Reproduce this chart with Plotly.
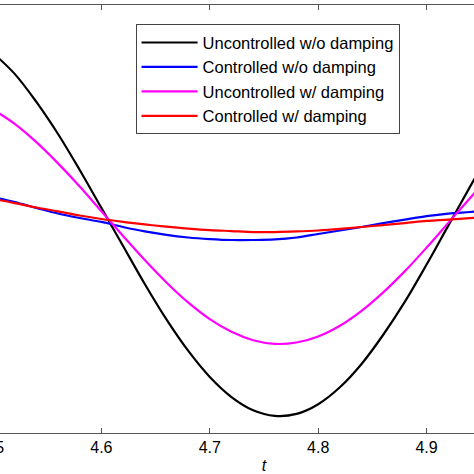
import plotly.graph_objects as go

t = [4.50, 4.52, 4.54, 4.56, 4.58, 4.60, 4.62, 4.64, 4.66, 4.68, 4.70, 4.72,
     4.74, 4.76, 4.78, 4.80, 4.82, 4.84, 4.86, 4.88, 4.90, 4.92, 4.94, 4.95]

unc_no_damp = [0.853, 0.746, 0.602, 0.437, 0.252, 0.057, -0.139, -0.334, -0.516, -0.677,
               -0.812, -0.915, -0.983, -1.012, -1.002, -0.952, -0.865, -0.745, -0.595,
               -0.425, -0.234, -0.034, 0.165, 0.262]
ctl_no_damp = [0.113, 0.087, 0.057, 0.028, 0.005, -0.015, -0.041, -0.064, -0.082, -0.095,
               -0.103, -0.108, -0.108, -0.105, -0.095, -0.077, -0.059, -0.041, -0.021,
               -0.003, 0.015, 0.028, 0.036, 0.041]
unc_damp = [0.563, 0.489, 0.395, 0.286, 0.167, 0.040, -0.087, -0.211, -0.326, -0.429,
            -0.515, -0.580, -0.623, -0.642, -0.635, -0.604, -0.549, -0.472, -0.377,
            -0.268, -0.147, -0.020, 0.107, 0.169]
ctl_damp = [0.103, 0.082, 0.059, 0.039, 0.018, 0.000, -0.015, -0.028, -0.039, -0.049,
            -0.057, -0.062, -0.067, -0.067, -0.064, -0.059, -0.051, -0.041, -0.031,
            -0.021, -0.010, -0.003, 0.005, 0.008]

x_ticks = [4.5, 4.6, 4.7, 4.8, 4.9]
x_tick_labels = ["4.5", "4.6", "4.7", "4.8", "4.9"]

names = ["Uncontrolled w/o damping", "Controlled w/o damping",
         "Uncontrolled w/ damping", "Controlled w/ damping"]
colors = ["#000000", "#0000ff", "#ff00ff", "#ff0000"]
series = [unc_no_damp, ctl_no_damp, unc_damp, ctl_damp]

fig = go.Figure()
for name, col, ys in zip(names, colors, series):
    fig.add_trace(go.Scatter(x=t, y=ys, name=name, mode="lines",
                             line=dict(color=col, width=2.2, shape="spline")))

font = dict(family="Liberation Sans, Arial, sans-serif", size=16, color="#000000")
fig.update_layout(
    width=542, height=474,
    margin=dict(l=0, r=0, t=5, b=41, autoexpand=False),
    paper_bgcolor="white", plot_bgcolor="white",
    font=font,
    showlegend=True,
    legend=dict(x=0.263, y=0.955, xanchor="left", yanchor="top",
                bordercolor="#444444", borderwidth=1, bgcolor="white",
                font=dict(family="Liberation Sans, Arial, sans-serif", size=16.5, color="#000000"),
                tracegroupgap=0, itemwidth=56),
    xaxis=dict(range=[4.5, 5.0], tickvals=x_ticks, ticktext=x_tick_labels,
               ticks="inside", ticklen=5, tickcolor="#555555",
               ticklabeloverflow="allow", automargin=False,
               showline=True, linecolor="#555555", linewidth=1, mirror="ticks",
               showgrid=False, zeroline=False,
               title=dict(text="<i>t</i>", standoff=6, font=dict(size=16))),
    yaxis=dict(range=[-1.1, 1.1], showticklabels=False, automargin=False,
               ticks="inside", ticklen=5, tickcolor="#555555",
               showline=True, linecolor="#555555", linewidth=1, mirror="ticks",
               showgrid=False, zeroline=False),
)

post = ("var d=document.getElementById('{plot_id}');"
        "d.style.marginLeft='-7px';"
        "document.body.style.margin='0';"
        "document.body.style.overflow='hidden';"
        "document.documentElement.style.overflow='hidden';")
fig.write_html("out.html", config={"displayModeBar": False}, post_script=post)
